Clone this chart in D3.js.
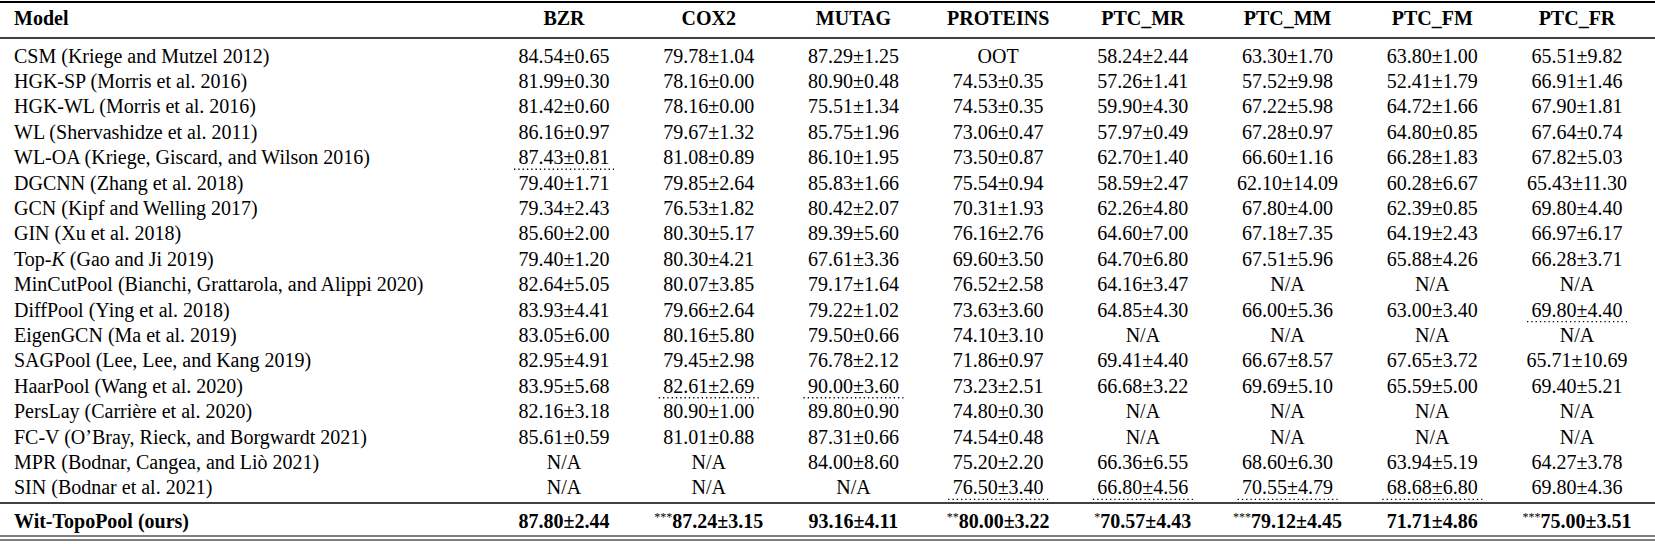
<!DOCTYPE html>
<html><head><meta charset="utf-8">
<script src="https://cdn.jsdelivr.net/npm/d3@7"></script>
<style>body{margin:0;background:#fff}svg,svg text{font-family:'Liberation Serif',serif}</style>
</head><body>
<script>
var columns = ['BZR','COX2','MUTAG','PROTEINS','PTC_MR','PTC_MM','PTC_FM','PTC_FR'];
var models = ['CSM (Kriege and Mutzel 2012)','HGK-SP (Morris et al. 2016)','HGK-WL (Morris et al. 2016)',
  'WL (Shervashidze et al. 2011)','WL-OA (Kriege, Giscard, and Wilson 2016)','DGCNN (Zhang et al. 2018)',
  'GCN (Kipf and Welling 2017)','GIN (Xu et al. 2018)','Top-K (Gao and Ji 2019)',
  'MinCutPool (Bianchi, Grattarola, and Alippi 2020)','DiffPool (Ying et al. 2018)','EigenGCN (Ma et al. 2019)',
  'SAGPool (Lee, Lee, and Kang 2019)','HaarPool (Wang et al. 2020)','PersLay (Carrière et al. 2020)',
  "FC-V (O’Bray, Rieck, and Borgwardt 2021)",'MPR (Bodnar, Cangea, and Liò 2021)','SIN (Bodnar et al. 2021)'];
var values = [
 ['84.54±0.65','79.78±1.04','87.29±1.25','OOT','58.24±2.44','63.30±1.70','63.80±1.00','65.51±9.82'],
 ['81.99±0.30','78.16±0.00','80.90±0.48','74.53±0.35','57.26±1.41','57.52±9.98','52.41±1.79','66.91±1.46'],
 ['81.42±0.60','78.16±0.00','75.51±1.34','74.53±0.35','59.90±4.30','67.22±5.98','64.72±1.66','67.90±1.81'],
 ['86.16±0.97','79.67±1.32','85.75±1.96','73.06±0.47','57.97±0.49','67.28±0.97','64.80±0.85','67.64±0.74'],
 ['87.43±0.81','81.08±0.89','86.10±1.95','73.50±0.87','62.70±1.40','66.60±1.16','66.28±1.83','67.82±5.03'],
 ['79.40±1.71','79.85±2.64','85.83±1.66','75.54±0.94','58.59±2.47','62.10±14.09','60.28±6.67','65.43±11.30'],
 ['79.34±2.43','76.53±1.82','80.42±2.07','70.31±1.93','62.26±4.80','67.80±4.00','62.39±0.85','69.80±4.40'],
 ['85.60±2.00','80.30±5.17','89.39±5.60','76.16±2.76','64.60±7.00','67.18±7.35','64.19±2.43','66.97±6.17'],
 ['79.40±1.20','80.30±4.21','67.61±3.36','69.60±3.50','64.70±6.80','67.51±5.96','65.88±4.26','66.28±3.71'],
 ['82.64±5.05','80.07±3.85','79.17±1.64','76.52±2.58','64.16±3.47','N/A','N/A','N/A'],
 ['83.93±4.41','79.66±2.64','79.22±1.02','73.63±3.60','64.85±4.30','66.00±5.36','63.00±3.40','69.80±4.40'],
 ['83.05±6.00','80.16±5.80','79.50±0.66','74.10±3.10','N/A','N/A','N/A','N/A'],
 ['82.95±4.91','79.45±2.98','76.78±2.12','71.86±0.97','69.41±4.40','66.67±8.57','67.65±3.72','65.71±10.69'],
 ['83.95±5.68','82.61±2.69','90.00±3.60','73.23±2.51','66.68±3.22','69.69±5.10','65.59±5.00','69.40±5.21'],
 ['82.16±3.18','80.90±1.00','89.80±0.90','74.80±0.30','N/A','N/A','N/A','N/A'],
 ['85.61±0.59','81.01±0.88','87.31±0.66','74.54±0.48','N/A','N/A','N/A','N/A'],
 ['N/A','N/A','84.00±8.60','75.20±2.20','66.36±6.55','68.60±6.30','63.94±5.19','64.27±3.78'],
 ['N/A','N/A','N/A','76.50±3.40','66.80±4.56','70.55±4.79','68.68±6.80','69.80±4.36']];
// second best (dotted underline): [row, col]
var underlined = [[4,0],[13,1],[13,2],[17,3],[17,4],[17,5],[17,6],[10,7]];
var oursName = 'Wit-TopoPool (ours)';
var oursValues = ['87.80±2.44','87.24±3.15','93.16±4.11','80.00±3.22','70.57±4.43','79.12±4.45','71.71±4.86','75.00±3.51'];
var oursStars = ['','***','','**','*','***','','***'];

var W = 1655, H = 544;
var svg = d3.select('body').append('svg').attr('width', W).attr('height', H)
  .attr('font-family', "'Liberation Serif', serif");
var x = d3.scalePoint().domain(columns).range([564, 1577]);
var y = d3.scaleBand().domain(d3.range(models.length)).range([43, 500]);
var fs = 20;

function rule(yy, w) { svg.append('line').attr('x1', 0).attr('x2', W).attr('y1', yy).attr('y2', yy).attr('stroke', '#000').attr('stroke-width', w); }
rule(2, 2); rule(38, 1.5); rule(503, 1.5); rule(536, 1.2); rule(540, 1.2);

svg.append('text').attr('x', 14).attr('y', 25).attr('font-weight', 'bold').attr('font-size', fs).text('Model');
svg.selectAll('.hd').data(columns).enter().append('text')
  .attr('x', function(d) { return x(d); }).attr('y', 25).attr('text-anchor', 'middle')
  .attr('font-weight', 'bold').attr('font-size', fs).text(function(d) { return d; });

var rows = svg.selectAll('.row').data(models).enter().append('g')
  .attr('transform', function(d, i) { return 'translate(0,' + (y(i) + y.bandwidth() / 2 + 7) + ')'; });
rows.append('text').attr('x', 14).attr('font-size', fs).each(function(d) {
  var t = d3.select(this);
  if (d.indexOf('Top-K') === 0) {
    t.append('tspan').text('Top-');
    t.append('tspan').attr('font-style', 'italic').text('K');
    t.append('tspan').text(d.slice(5));
  } else t.text(d);
});
rows.each(function(d, i) {
  d3.select(this).selectAll('text.v').data(values[i]).enter().append('text')
    .attr('class', 'v').attr('x', function(v, j) { return x(columns[j]); })
    .attr('text-anchor', 'middle').attr('font-size', fs).text(function(v) { return v; });
});
underlined.forEach(function(u) {
  var cx = x(columns[u[1]]);
  svg.append('line').attr('x1', cx - 50).attr('x2', cx + 50)
    .attr('y1', y(u[0]) + y.bandwidth() / 2 + 12).attr('y2', y(u[0]) + y.bandwidth() / 2 + 12)
    .attr('stroke', '#000').attr('stroke-width', 1.3).attr('stroke-dasharray', '1.3,3');
});

var oy = 528;
svg.append('text').attr('x', 14).attr('y', oy).attr('font-weight', 'bold').attr('font-size', fs).text(oursName);
oursValues.forEach(function(v, j) {
  var t = svg.append('text').attr('x', x(columns[j])).attr('y', oy).attr('text-anchor', 'middle').attr('font-size', fs);
  if (oursStars[j]) t.append('tspan').attr('font-size', 12).attr('dy', -7).text(oursStars[j]);
  t.append('tspan').attr('font-weight', 'bold').attr('dy', oursStars[j] ? 7 : 0).text(v);
});
</script>
</body></html>
